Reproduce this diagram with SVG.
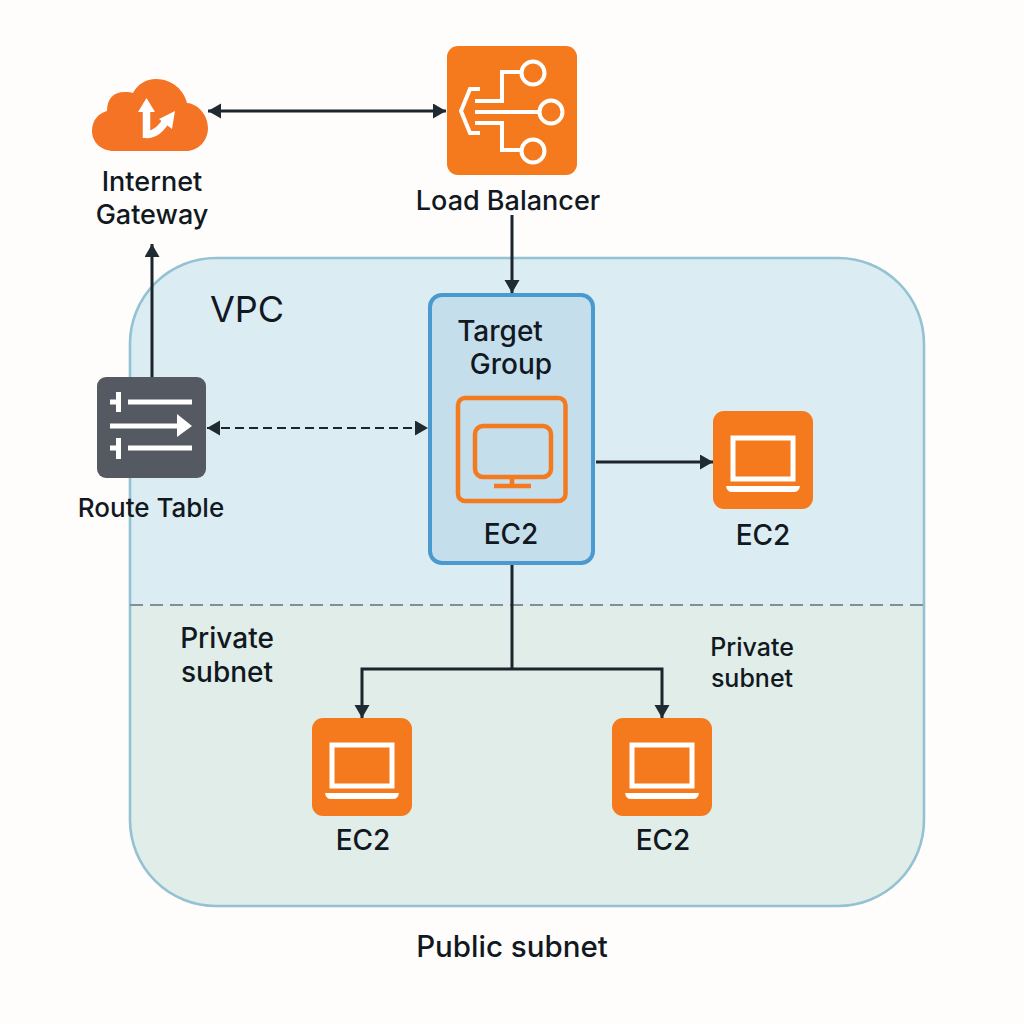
<svg xmlns="http://www.w3.org/2000/svg" width="1024" height="1024" viewBox="0 0 1024 1024">
<style>
text{font-family:Inter,"Liberation Sans",Arial,sans-serif;font-weight:500;font-size:27px;fill:#11181f;text-anchor:middle}
.ln{stroke:#1c252c;stroke-width:3;fill:none}
.w{stroke:#fff;fill:none}
.tile{fill:#f47a1d}
.o{stroke:#f47a20;fill:none}
.ec{font-size:28px}
</style>
<defs>
<marker id="ah" markerUnits="userSpaceOnUse" markerWidth="14" markerHeight="16" refX="13" refY="7.5" orient="auto-start-reverse"><path d="M0 0L13 7.5L0 15Z" fill="#1f2a31"/></marker>
<g id="laptop">
<rect class="tile" width="100" height="98" rx="11"/>
<rect x="20" y="27" width="60" height="41" fill="none" stroke="#fff" stroke-width="5"/>
<path d="M13 75H87Q86 81 81 81H19Q14 81 13 75Z" fill="#fff"/>
</g>
<clipPath id="top"><rect x="120" y="250" width="810" height="355"/></clipPath>
<clipPath id="bot"><rect x="120" y="605" width="810" height="310"/></clipPath>
</defs>
<rect width="1024" height="1024" fill="#fefdfb"/>
<g id="vpc">
<rect x="130" y="258" width="794" height="648" rx="86" fill="#dcecf3" clip-path="url(#top)"/>
<rect x="130" y="258" width="794" height="648" rx="86" fill="#e0ede8" clip-path="url(#bot)"/>
<rect x="130" y="258" width="794" height="648" rx="86" fill="none" stroke="#93c2d2" stroke-width="2.600"/>
<line x1="130" y1="605" x2="924" y2="605" stroke="#7f9097" stroke-width="2" stroke-dasharray="13 7"/>
<text x="247" y="322" style="font-size:36px;font-weight:400">VPC</text>
<text x="227" y="648" class="ec">Private</text>
<text x="227" y="682" class="ec">subnet</text>
<text x="752" y="656" style="font-size:25px">Private</text>
<text x="752" y="687" style="font-size:25px">subnet</text>
<text x="512" y="957" style="font-size:29.500px">Public subnet</text>
</g>
<g id="connectors">
<line class="ln" x1="208" y1="111" x2="446" y2="111" marker-start="url(#ah)" marker-end="url(#ah)"/>
<line class="ln" x1="152" y1="377" x2="152" y2="244" marker-end="url(#ah)"/>
<line class="ln" x1="512" y1="215" x2="512" y2="293" marker-end="url(#ah)"/>
<line class="ln" style="stroke-width:2" x1="207" y1="428" x2="428" y2="428" stroke-dasharray="9 5" marker-start="url(#ah)" marker-end="url(#ah)"/>
<line class="ln" x1="596" y1="462" x2="713" y2="462" marker-end="url(#ah)"/>
<line class="ln" x1="512" y1="565" x2="512" y2="669"/>
<path class="ln" d="M362 718V669H662V718" marker-start="url(#ah)" marker-end="url(#ah)"/>
</g>
<g id="internet-gateway">
<path d="M114 151C101 151 92 142 92 131C92 120 99 113 107 111C107 99 113 92 125 92C128 92 131 92 133 93C138 84 146 79 156 79C172 79 184 90 187 103C199 104 208 116 208 128C208 141 198 151 186 151Z" fill="#f57325"/>
<path d="M146.500 110V138" class="w" stroke-width="7.500"/>
<path d="M146 134.500C156 135 162 128 167 119" class="w" stroke-width="7.500"/>
<path d="M146.500 98L155 112H138Z M175 111L159 119L172 129Z" fill="#fff"/>
<text x="152" y="191">Internet</text>
<text x="152" y="224">Gateway</text>
</g>
<g id="load-balancer">
<rect class="tile" x="447" y="46" width="130" height="129" rx="11"/>
<g class="w" stroke-width="4">
<path d="M480 89H470L461 111L470 133H480"/>
<path d="M475 101H502V72H522"/>
<path d="M475 112H540"/>
<path d="M475 123H502V150H522"/>
<circle cx="533" cy="73" r="11.500"/>
<circle cx="551" cy="112" r="11.500"/>
<circle cx="533" cy="151" r="11.500"/>
</g>
<text x="508" y="210">Load Balancer</text>
</g>
<g id="route-table">
<rect x="97" y="377" width="109" height="101" rx="9" fill="#555a62"/>
<g class="w" stroke-width="5">
<path d="M128 402H192M110 402H118M118.500 392V412"/>
<path d="M128 448H192M110 448H118M118.500 438V459"/>
<path d="M110 426H178"/>
</g>
<path d="M177 414L192 426L177 437Z" fill="#fff"/>
<text x="151" y="517" style="font-size:26px">Route Table</text>
</g>
<g id="target-group">
<rect x="430" y="295" width="163" height="268" rx="12" fill="#c5deec" stroke="#4a9ad0" stroke-width="4"/>
<text x="500" y="341" class="ec">Target</text>
<text x="511" y="374" class="ec">Group</text>
<rect class="o" x="458" y="398" width="107.500" height="103" rx="7" stroke-width="4.500"/>
<rect class="o" x="475" y="426" width="76" height="51" rx="8" stroke-width="4.500"/>
<path class="o" d="M512 477V486M494 486H531" stroke-width="4.500"/>
<text x="511" y="544" class="ec">EC2</text>
</g>
<g id="ec2-right">
<use href="#laptop" x="713" y="411"/>
<text x="763" y="545" class="ec">EC2</text>
</g>
<g id="ec2-left-bottom">
<use href="#laptop" x="312" y="718"/>
<text x="363" y="850" class="ec">EC2</text>
</g>
<g id="ec2-right-bottom">
<use href="#laptop" x="612" y="718"/>
<text x="663" y="850" class="ec">EC2</text>
</g>
</svg>
